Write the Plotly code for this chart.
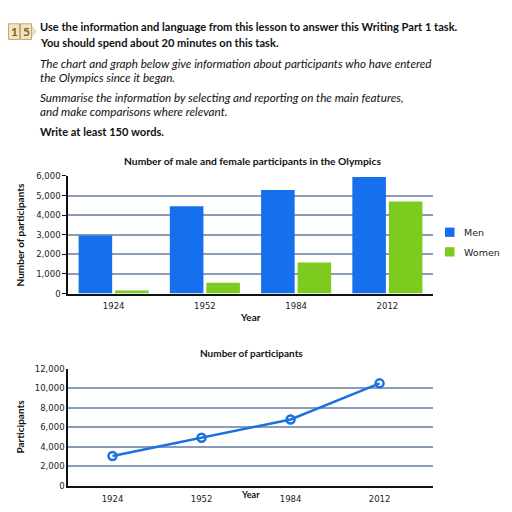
import plotly.graph_objects as go

years = ["1924", "1952", "1984", "2012"]
men = [2960, 4460, 5280, 5950]
women = [160, 550, 1580, 4700]
total = [3070, 4940, 6800, 10500]

bar_ticks = [0, 1000, 2000, 3000, 4000, 5000, 6000]
line_ticks = [0, 2000, 4000, 6000, 8000, 10000, 12000]

# page has an 8px body margin; figure is 496x496 so no scrollbars appear
OFF = 8
W = H = 496
def px(x): return (x - OFF) / W
def py(y): return 1 - (y - OFF) / H

BLUE = "#1670ee"
GREEN = "#7dcb1f"
GRID = "#8c9cb8"
TICKF = dict(family="DejaVu Sans", size=8.5, color="#222")
TXT = "Lato"
CLEAR = "rgba(0,0,0,0)"

fig = go.Figure()
fig.add_trace(go.Bar(x=years, y=men, name="Men", marker=dict(color=BLUE, line=dict(width=0)),
                     xaxis="x", yaxis="y", showlegend=False))
fig.add_trace(go.Bar(x=years, y=women, name="Women", marker=dict(color=GREEN, line=dict(width=0)),
                     xaxis="x", yaxis="y", showlegend=False))
fig.add_trace(go.Scatter(x=list(range(len(years))), y=total, mode="lines+markers", showlegend=False,
                         line=dict(color="#1a72e2", width=2.5),
                         marker=dict(symbol="circle-open", size=8, color="#1a72e2", line=dict(width=2.5)),
                         xaxis="x2", yaxis="y2"))

fig.update_layout(
    width=W, height=H, margin=dict(l=0, r=0, t=0, b=0),
    paper_bgcolor="white", plot_bgcolor="white",
    barmode="group", bargap=0.2, bargroupgap=0.08,
    xaxis=dict(domain=[px(68), px(433)], anchor="y", type="category", range=[-0.5, 3.5],
               showgrid=False, showline=True, linecolor="#111", linewidth=1.5,
               tickfont=TICKF, ticks="outside", ticklen=4, tickcolor=CLEAR),
    yaxis=dict(domain=[py(294.3), py(174.3)], anchor="x", range=[0, 6000], tickvals=bar_ticks,
               tickformat=",d", showgrid=True, gridcolor=GRID, gridwidth=1.5,
               showline=True, linecolor="#111", linewidth=1.5, ticks="outside", ticklen=4,
               tickcolor="#111", tickfont=TICKF, zeroline=False),
    xaxis2=dict(domain=[px(68), px(433)], anchor="y2", range=[-0.5, 3.6],
                tickvals=list(range(len(years))), ticktext=years,
                showgrid=False, showline=True, linecolor="#111", linewidth=1.5,
                tickfont=TICKF, ticks="outside", ticklen=4, tickcolor=CLEAR, zeroline=False),
    yaxis2=dict(domain=[py(490.7), py(371)], anchor="x2", range=[0, 12000], tickvals=line_ticks,
                tickformat=",d", showgrid=True, gridcolor=GRID, gridwidth=1.5,
                showline=True, linecolor="#111", linewidth=1.5, ticks="", tickfont=TICKF,
                zeroline=False),
    font=dict(family=TXT),
)

ann = []
def text(x, y, s, size=12, bold=False, italic=False, anchor="left", fam=TXT, angle=0, color="#111"):
    if bold: s = "<b>" + s + "</b>"
    if italic: s = "<i>" + s + "</i>"
    ann.append(dict(x=px(x), y=py(y), xref="paper", yref="paper", text=s, showarrow=False,
                    xanchor=anchor, yanchor="middle", textangle=angle,
                    font=dict(family=fam, size=size, color=color)))

text(38, 22, "Use the information and language from this lesson to answer this Writing Part 1 task.", 11.1, bold=True)
text(38, 38, "You should spend about 20 minutes on this task.", 11.1, bold=True)
text(38, 59, "The chart and graph below give information about participants who have entered", 11.7, italic=True)
text(38, 73, "the Olympics since it began.", 11.7, italic=True)
text(38, 94, "Summarise the information by selecting and reporting on the main features,", 11.7, italic=True)
text(38, 108, "and make comparisons where relevant.", 11.7, italic=True)
text(38, 129, "Write at least 150 words.", 11.1, bold=True)

text(252, 159, "Number of male and female participants in the Olympics", 10.3, bold=True, anchor="center")
text(250, 318, "Year", 10, bold=True, anchor="center")
text(20, 235, "Number of participants", 10, bold=True, anchor="center", angle=-90)
text(251, 355, "Number of participants", 10, bold=True, anchor="center")
text(20, 430, "Participants", 10, bold=True, anchor="center", angle=-90)
text(250, 499, "Year", 9, bold=True, anchor="center")

# legend
text(462, 232, "Men", 9.5, fam="DejaVu Sans", color="#222")
text(462, 252, "Women", 9.5, fam="DejaVu Sans", color="#222")

shapes = [
    dict(type="rect", xref="paper", yref="paper", x0=px(445), x1=px(454.5), y0=py(236.5), y1=py(227),
         fillcolor=BLUE, line=dict(width=0)),
    dict(type="rect", xref="paper", yref="paper", x0=px(445), x1=px(454.5), y0=py(256.5), y1=py(247),
         fillcolor=GREEN, line=dict(width=0)),
    # badge
    dict(type="rect", xref="paper", yref="paper", x0=px(8.5), x1=px(19.5), y0=py(35), y1=py(19),
         fillcolor="#efe3c8", line=dict(color="#c9a86a", width=1)),
    dict(type="rect", xref="paper", yref="paper", x0=px(20.5), x1=px(31.5), y0=py(35), y1=py(19),
         fillcolor="#efe3c8", line=dict(color="#c9a86a", width=1)),
    dict(type="path", xref="paper", yref="paper",
         path=f"M {px(32)},{py(21)} L {px(37)},{py(27)} L {px(32)},{py(33)} Z",
         fillcolor="#e8dcc4", line=dict(width=0)),
]
text(14, 27, "1", 12, bold=True, anchor="center", color="#8a5a18")
text(26, 27, "5", 12, bold=True, anchor="center", color="#8a5a18")

fig.update_layout(annotations=ann, shapes=shapes)
fig.write_html("out.html")
